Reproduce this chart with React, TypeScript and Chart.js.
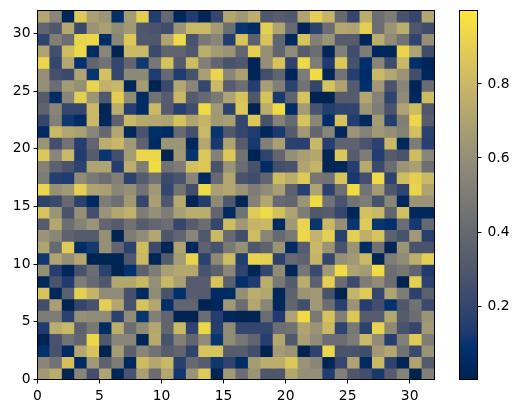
import React, { useEffect, useRef } from "react";
import { Chart, registerables } from "chart.js";

Chart.register(...registerables);

const row31 = [.72,.55,.02,.88,.68,.63,.08,.66,.9,.14,.4,.03,.13,.02,.2,.72,.65,.75,.3,.33,.3,.7,.9,.78,.4,.2,.75,.43,.5,.27,.2,.72];
const row30 = [.38,.3,.72,.22,.62,.68,.58,.65,.3,.28,.24,.62,.8,.8,.66,.42,.1,.06,.9,.7,.4,.02,.17,.42,.72,.7,.9,.42,.62,.75,.3,.24];
const row29 = [.18,.52,.42,.92,.93,.07,.55,.87,.3,.3,.7,.94,.28,.48,.55,.14,.85,.35,.85,.38,.04,.85,.52,.62,.33,.33,.02,.75,.58,.45,.18,.6];
const row28 = [.7,.25,.82,.94,.06,.55,.01,.8,.8,.22,.37,.37,.3,.75,.66,.62,.38,.9,.6,.37,.58,.33,.42,.02,.52,.24,.5,.03,.03,.92,.7,.24];
const row27 = [.93,.2,.72,.09,.38,.45,.2,.38,.11,.48,.85,.32,.82,.52,.38,.27,.3,.02,.6,.85,.18,.94,.5,.13,.87,.27,.08,.55,.24,.8,.08,.02];
const row26 = [.6,.26,.22,.7,.1,.84,.2,.57,.57,.13,.4,.13,.27,.68,.92,.55,.68,.02,.25,.37,.02,.5,.95,.02,.45,.15,.06,.8,.72,.62,.25,.03];
const row25 = [.6,.42,.66,.6,.92,.77,.8,.03,.66,.01,.22,.72,.55,.2,.8,.33,.43,.15,.68,.52,.17,.45,.2,.85,.7,.32,.08,.65,.28,.55,.02,.42];
const row24 = [.32,.06,.55,.9,.63,.3,.9,.58,.06,.45,.33,.8,.32,.4,.48,.7,.85,.3,.85,.12,.37,.85,.01,.01,.33,.32,.72,.53,.18,.58,.04,.82];
const row23 = [.36,.55,.2,.2,.8,.02,.75,.15,.06,.8,.32,.15,.24,.95,.65,.17,.87,.01,.75,.95,.06,.66,.28,.14,.18,.19,.63,.5,.28,.7,.82,.3];
const row22 = [.2,.52,.11,.06,.8,.04,.36,.8,.73,.72,.7,.85,.7,.78,.65,.68,.2,.87,.27,.53,.4,.85,.55,.07,.85,.14,.04,.66,.15,.52,.93,.33];
const row21 = [.05,.8,.72,.68,.55,.4,.72,.03,.28,.07,.05,.4,.26,.8,.1,.3,.2,.13,.03,.12,.32,.65,.38,.55,.04,.63,.53,.65,.6,.53,.84,.17];
const row20 = [.62,.25,.45,.15,.38,.75,.8,.65,.36,.06,.63,.63,.04,.72,.12,.7,.33,.12,.52,.68,.17,.16,.8,.15,.36,.36,.28,.17,.8,.03,.5,.16];
const row19 = [.87,.55,.8,.13,.33,.1,.25,.66,.93,.93,.01,.65,.1,.87,.53,.87,.45,.01,.18,.38,.6,.68,.72,.02,.87,.33,.5,.14,.33,.28,.82,.55];
const row18 = [.53,.35,.28,.17,.7,.7,.15,.75,.5,.95,.45,.5,.83,.87,.27,.62,.42,.27,.06,.25,.27,.7,.78,.02,.03,.15,.73,.22,.42,.62,.68,.43];
const row17 = [.5,.15,.13,.58,.48,.42,.52,.17,.32,.45,.23,.28,.55,.05,.4,.72,.28,.24,.37,.82,.75,.88,.47,.45,.85,.12,.25,.94,.17,.82,.9,.8];
const row16 = [.93,.6,.65,.9,.7,.68,.55,.6,.45,.65,.2,.45,.25,.95,.68,.72,.62,.5,.58,.68,.35,.16,.7,.17,.43,.95,.45,.66,.3,.19,.92,.7];
const row15 = [.17,.22,.4,.17,.05,.5,.43,.65,.2,.68,.3,.73,.02,.14,.57,.3,.02,.53,.72,.4,.38,.63,.95,.45,.28,.45,.5,.27,.55,.04,.63,.62];
const row14 = [.85,.62,.28,.6,.25,.62,.72,.77,.5,.6,.5,.68,.75,.75,.38,.05,.45,.88,.94,.84,.7,.5,.3,.33,.2,.02,.83,.8,.38,.83,.04,.04];
const row13 = [.32,.72,.43,.53,.62,.38,.32,.45,.33,.38,.42,.2,.33,.42,.2,.82,.65,.78,.8,.05,.65,.92,.1,.8,.6,.1,.88,.1,.08,.42,.12,.4];
const row12 = [.62,.55,.36,.32,.32,.6,.01,.5,.58,.72,.3,.38,.55,.3,.8,.4,.25,.82,.55,.4,.48,.93,.78,.9,.16,.9,.76,.85,.36,.27,.65,.16];
const row11 = [.7,.4,.88,.06,.12,.6,.38,.17,.82,.23,.02,.7,.04,.36,.27,.48,.6,.3,.36,.62,.05,.33,.8,.62,.28,.62,.06,.45,.02,.62,.28,.28];
const row10 = [.11,.7,.6,.72,.01,.01,.02,.3,.8,.02,.32,.66,.92,.17,.57,.82,.14,.92,.9,.17,.4,.36,.78,.2,.6,.65,.8,.02,.5,.58,.75,.9];
const row9 = [.6,.15,.03,.27,.42,.17,.01,.09,.35,.5,.68,.72,.72,.27,.35,.55,.18,.02,.2,.58,.03,.47,.22,.65,.95,.7,.66,.95,.42,.47,.37,.13];
const row8 = [.03,.28,.13,.5,.4,.3,.72,.72,.8,.6,.8,.68,.33,.33,.85,.35,.08,.13,.75,.48,.32,.75,.35,.9,.42,.22,.5,.58,.42,.01,.9,.17];
const row7 = [.85,.03,.35,.9,.78,.58,.58,.26,.05,.58,.27,.08,.33,.32,.05,.05,.6,.75,.72,.03,.36,.62,.65,.27,.01,.78,.88,.2,.7,.5,.17,.35];
const row6 = [.25,.68,.01,.2,.27,.9,.72,.27,.85,.72,.07,.38,.38,.01,.03,.65,.42,.72,.55,.03,.38,.25,.65,.42,.16,.62,.15,.25,.09,.3,.45,.22];
const row5 = [.5,.5,.17,.6,.58,.58,.17,.58,.1,.52,.38,.01,.01,.42,.15,.04,.01,.02,.42,.13,.7,.95,.48,.85,.52,.87,.33,.33,.72,.32,.42,.62];
const row4 = [.13,.75,.8,.35,.48,.06,.75,.42,.58,.72,.37,.8,.18,.93,.15,.58,.2,.2,.2,.43,.45,.7,.62,.8,.18,.48,.17,.92,.57,.28,.2,.65];
const row3 = [.01,.28,.45,.38,.93,.3,.55,.55,.02,.73,.27,.52,.38,.58,.1,.58,.47,.38,.15,.72,.3,.68,.58,.42,.42,.5,.8,.58,.15,.52,.88,.5];
const row2 = [.08,.27,.05,.72,.85,.01,.67,.35,.55,.45,.33,.38,.18,.85,.85,.33,.33,.25,.01,.66,.62,.01,.17,.93,.28,.28,.25,.65,.72,.45,.22,.62];
const row1 = [.55,.45,.84,.05,.65,.36,.5,.04,.82,.72,.8,.16,.4,.33,.11,.18,.06,.66,.75,.75,.87,.62,.55,.02,.2,.7,.05,.8,.18,.02,.7,.32];
const row0 = [.65,.75,.02,.55,.25,.7,.03,.28,.68,.42,.72,.11,.62,.88,.02,.65,.42,.62,.3,.3,.72,.6,.6,.14,.52,.3,.25,.12,.33,.53,.01,.52];

const rows = [row0,row1,row2,row3,row4,row5,row6,row7,row8,row9,row10,row11,row12,row13,row14,row15,row16,row17,row18,row19,row20,row21,row22,row23,row24,row25,row26,row27,row28,row29,row30,row31];

const heatmapTicks = [0, 5, 10, 15, 20, 25, 30];
const colorbarTicks = [0.2, 0.4, 0.6, 0.8];
const colorRange = [0.0014, 0.9986];

const cmapStops = [0, 0.05, 0.09, 0.13, 0.222, 0.333, 0.444, 0.556, 0.667, 0.778, 0.889, 1];
const cmapColors = ["#00224e", "#002a63", "#00326f", "#1f3b70", "#3b496c", "#575d6d", "#707173", "#8a8678", "#a59c74", "#c3b369", "#e1cc55", "#fee838"];

function hexRgb(h: string) {
  return [1, 3, 5].map((i) => parseInt(h.slice(i, i + 2), 16));
}

function cividis(v: number) {
  let i = 0;
  while (i < cmapStops.length - 2 && v > cmapStops[i + 1]) i++;
  const t = Math.max(0, Math.min(1, (v - cmapStops[i]) / (cmapStops[i + 1] - cmapStops[i])));
  const a = hexRgb(cmapColors[i]);
  const b = hexRgb(cmapColors[i + 1]);
  return `rgb(${a.map((c, k) => Math.round(c + (b[k] - c) * t)).join(",")})`;
}

const FONT = { family: "'DejaVu Sans'", size: 13.89 };
const INK = "#000000";

const frame = {
  id: "frame",
  afterDatasetsDraw(chart: any) {
    const { ctx, chartArea: a } = chart;
    const l = Math.floor(a.left) + 0.5;
    const t = Math.floor(a.top) + 0.5;
    const r = Math.floor(a.right) + 0.5;
    const b = Math.floor(a.bottom) + 0.5;
    ctx.save();
    ctx.strokeStyle = INK;
    ctx.lineWidth = 1;
    ctx.strokeRect(l, t, r - l, b - t);
    ctx.restore();
  },
};

const setTicks = (values: number[]) => (scale: any) => {
  scale.ticks = values.map((value) => ({ value }));
};

export default function App() {
  const mainRef = useRef<HTMLCanvasElement>(null);
  const barRef = useRef<HTMLCanvasElement>(null);

  useEffect(() => {
    const cells: any[] = [];
    const colors: string[] = [];
    rows.forEach((vals, r) =>
      vals.forEach((v, c) => {
        cells.push({ x: c + 0.5, y: [r, r + 1] });
        colors.push(cividis(v));
      })
    );

    const main = new Chart(mainRef.current!, {
      type: "bar",
      data: {
        datasets: [
          {
            data: cells,
            backgroundColor: colors,
            borderWidth: 0,
            barPercentage: 1,
            categoryPercentage: 1,
            inflateAmount: 0.5,
          } as any,
        ],
      },
      options: {
        responsive: false,
        animation: false,
        events: [],
        layout: { padding: { top: 10.5, right: 84.5, left: 0, bottom: 0 } },
        plugins: { legend: { display: false }, tooltip: { enabled: false } },
        scales: {
          x: {
            type: "linear",
            offset: false,
            min: 0,
            max: 32,
            afterBuildTicks: setTicks(heatmapTicks),
            afterFit: (s: any) => { s.height = 33.5; s.paddingLeft = 0; s.paddingRight = 0; },
            grid: { display: true, offset: false, drawOnChartArea: false, drawTicks: true, tickLength: 4, color: INK, lineWidth: 1 },
            border: { display: false },
            ticks: { color: INK, font: FONT, maxRotation: 0, autoSkip: false, padding: 5, callback: (v: any) => String(v) },
          },
          y: {
            type: "linear",
            offset: false,
            min: 0,
            max: 32,
            afterBuildTicks: setTicks(heatmapTicks),
            afterFit: (s: any) => { s.width = 37.5; s.paddingTop = 0; s.paddingBottom = 0; },
            grid: { display: true, offset: false, drawOnChartArea: false, drawTicks: true, tickLength: 4, color: INK, lineWidth: 1 },
            border: { display: false },
            ticks: { color: INK, font: FONT, autoSkip: false, padding: 3, callback: (v: any) => String(v) },
          },
        },
      } as any,
      plugins: [frame],
    });

    const colorbar = new Chart(barRef.current!, {
      type: "bar",
      data: {
        labels: ["colorbar"],
        datasets: [
          {
            data: [colorRange],
            backgroundColor: (ctx: any) => {
              const area = ctx.chart.chartArea;
              const y = ctx.chart.scales.y;
              if (!area) return "#888";
              const g = ctx.chart.ctx.createLinearGradient(0, y.getPixelForValue(0), 0, y.getPixelForValue(1));
              cmapStops.forEach((s, i) => g.addColorStop(s, cmapColors[i]));
              return g;
            },
            borderWidth: 0,
            barPercentage: 1,
            categoryPercentage: 1,
          } as any,
        ],
      },
      options: {
        responsive: false,
        animation: false,
        events: [],
        layout: { padding: { top: 10.5, left: 459.5, right: 0, bottom: 33.5 } },
        plugins: { legend: { display: false }, tooltip: { enabled: false } },
        scales: {
          x: { display: false },
          y: {
            type: "linear",
            position: "right",
            min: colorRange[0],
            max: colorRange[1],
            afterBuildTicks: setTicks(colorbarTicks),
            afterFit: (s: any) => { s.width = 41.5; s.paddingTop = 0; s.paddingBottom = 0; },
            grid: { display: true, drawOnChartArea: false, drawTicks: true, tickLength: 4, color: INK, lineWidth: 1 },
            border: { display: false },
            ticks: { color: INK, font: FONT, autoSkip: false, padding: 6, callback: (v: any) => Number(v).toFixed(1) },
          },
        },
      } as any,
      plugins: [frame],
    });

    return () => {
      main.destroy();
      colorbar.destroy();
    };
  }, []);

  const pos: React.CSSProperties = { position: "absolute", left: 0, top: 0 };
  return (
    <div style={{ position: "fixed", left: 0, top: 0, width: 519, height: 413, background: "#fff" }}>
      <canvas ref={mainRef} width={519} height={413} style={pos} />
      <canvas ref={barRef} width={519} height={413} style={pos} />
    </div>
  );
}
